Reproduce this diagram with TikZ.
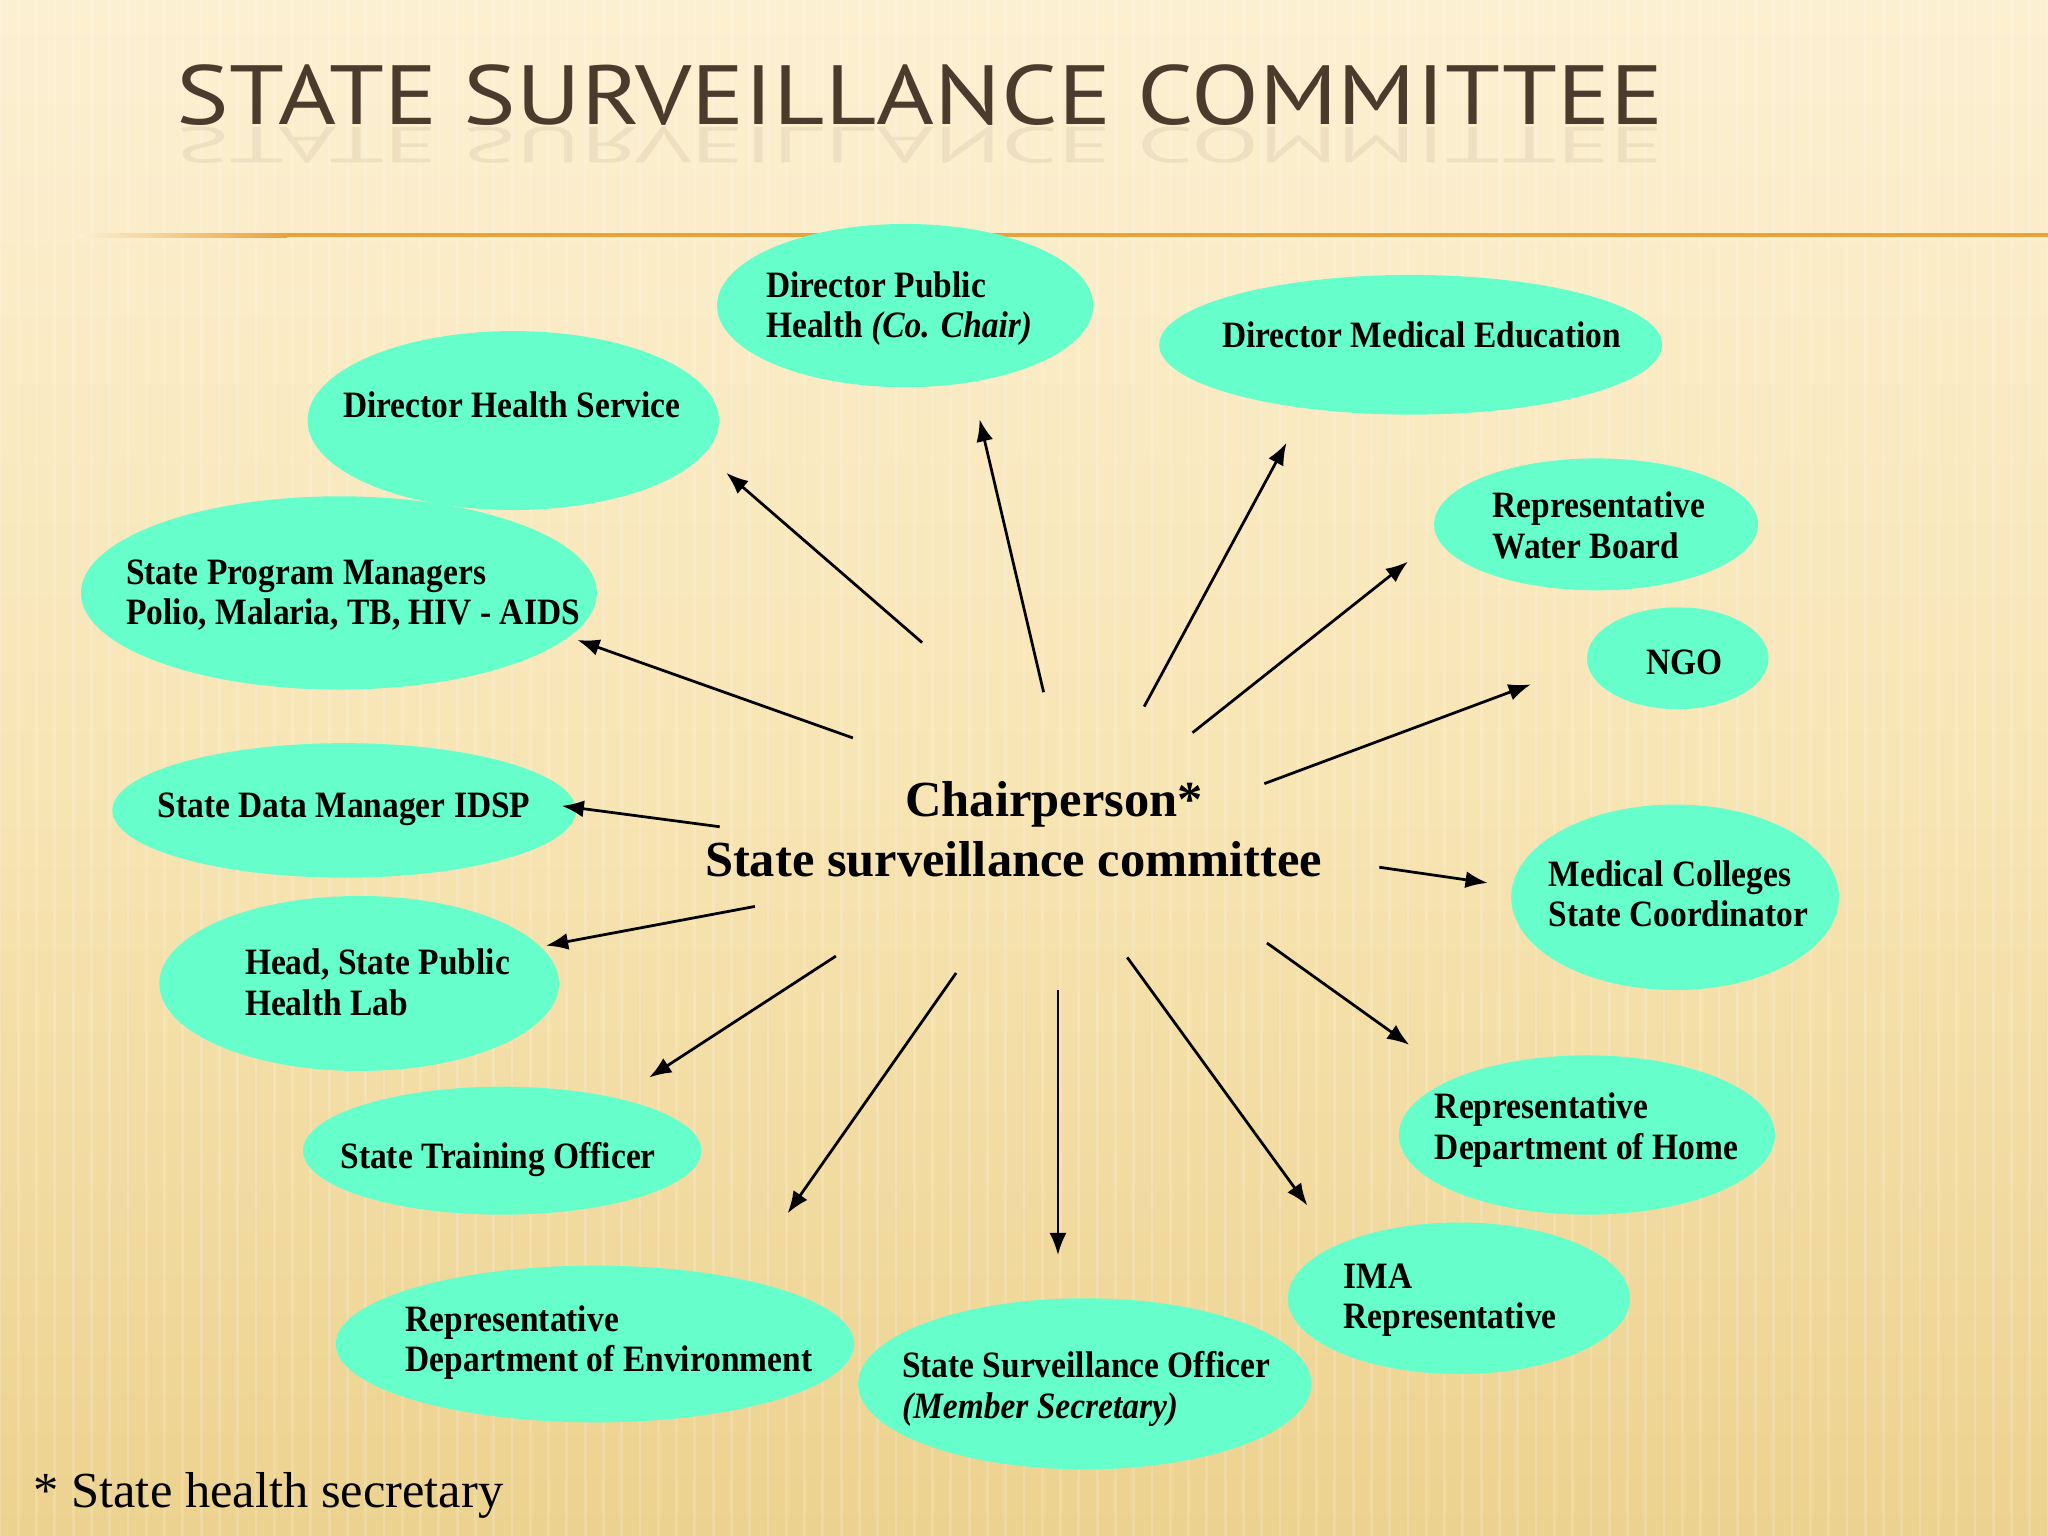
\documentclass[tikz,border=0pt]{standalone}
\usepackage{fontspec}
\setmainfont{Liberation Serif}
\newfontfamily\titlefont{PT Sans}
\usetikzlibrary{shapes.geometric,arrows.meta}

\definecolor{aqua}{HTML}{66FFCC}
\definecolor{titlebrown}{HTML}{4A3B2C}
\definecolor{rulecol}{HTML}{E9A23B}
\definecolor{bgtop}{HTML}{FCF0D2}
\definecolor{bgmid}{HTML}{F8E5B5}
\definecolor{bgbot}{HTML}{ECD28F}

\begin{document}
\begin{tikzpicture}[
  main node/.style={ellipse,fill=aqua,inner sep=0pt},
  name node/.style={anchor=north west,align=left,inner sep=0pt,xscale=0.9,
    font=\fontsize{8.1}{8.8}\selectfont\bfseries},
  arrow line/.style={-{Latex[length=1.7mm,width=1.3mm]},line width=0.6pt},
  title node/.style={anchor=base,inner sep=0pt,text=titlebrown,xscale=1.18,
    font=\titlefont\fontsize{18.3}{20}\selectfont}]

% background
\fill[top color=bgtop,bottom color=bgbot,middle color=bgmid] (0,0) rectangle (15.68,11.76);
\useasboundingbox (0,0) rectangle (15.68,11.76);
\foreach \x in {0,0.14,...,15.68}
  \draw[white,opacity=0.16,line width=0.6pt] (\x,0) -- (\x,11.76);

% title and rule
\node[title node] (title) at (7.045,10.81) {STATE SURVEILLANCE COMMITTEE};
\node[title node,yscale=-0.6,opacity=0.08] (titleshadow) at (7.045,10.78) {STATE SURVEILLANCE COMMITTEE};
\shade[left color=bgtop,right color=rulecol] (0.6,9.945) rectangle (2.2,9.975);
\fill[rulecol] (2.2,9.945) rectangle (15.68,9.975);

% ellipses
\node[main node,minimum width=2.88cm,minimum height=1.25cm] (dph) at (6.93,9.42) {};
\node[main node,minimum width=3.85cm,minimum height=1.07cm] (dme) at (10.80,9.12) {};
\node[main node,minimum width=3.15cm,minimum height=1.37cm] (dhs) at (3.93,8.54) {};
\node[main node,minimum width=3.95cm,minimum height=1.48cm] (spm) at (2.595,7.22) {};
\node[main node,minimum width=2.48cm,minimum height=1.01cm] (rwb) at (12.22,7.745) {};
\node[main node,minimum width=1.39cm,minimum height=0.78cm] (ngo) at (12.845,6.72) {};
\node[main node,minimum width=3.55cm,minimum height=1.03cm] (sdm) at (2.635,5.555) {};
\node[main node,minimum width=2.51cm,minimum height=1.42cm] (mcc) at (12.825,4.89) {};
\node[main node,minimum width=3.06cm,minimum height=1.34cm] (hpl) at (2.75,4.23) {};
\node[main node,minimum width=3.05cm,minimum height=0.98cm] (sto) at (3.845,2.95) {};
\node[main node,minimum width=2.88cm,minimum height=1.22cm] (rdh) at (12.15,3.07) {};
\node[main node,minimum width=2.62cm,minimum height=1.16cm] (ima) at (11.17,1.82) {};
\node[main node,minimum width=3.97cm,minimum height=1.20cm] (rde) at (4.555,1.47) {};
\node[main node,minimum width=3.47cm,minimum height=1.31cm] (sso) at (8.305,1.165) {};

% labels
\node[name node] (dphtext) at (5.86,9.69) {Director Public\\Health \textit{(Co. Chair)}};
\node[name node] (dmetext) at (9.35,9.30) {Director Medical Education};
\node[name node] (dhstext) at (2.62,8.77) {Director Health Service};
\node[name node] (spmtext) at (0.96,7.48) {State Program Managers\\Polio, Malaria, TB, HIV - AIDS};
\node[name node] (rwbtext) at (11.42,8.00) {Representative\\Water Board};
\node[name node] (ngotext) at (12.60,6.79) {NGO};
\node[name node] (sdmtext) at (1.20,5.70) {State Data Manager IDSP};
\node[name node] (mcctext) at (11.85,5.18) {Medical Colleges\\State Coordinator};
\node[name node] (hpltext) at (1.87,4.50) {Head, State Public\\Health Lab};
\node[name node] (stotext) at (2.60,3.02) {State Training Officer};
\node[name node] (rdhtext) at (10.98,3.40) {Representative\\Department of Home};
\node[name node] (imatext) at (10.28,2.09) {IMA\\Representative};
\node[name node] (rdetext) at (3.10,1.77) {Representative\\Department of Environment};
\node[name node] (ssotext) at (6.90,1.42) {State Surveillance Officer\\\textit{(Member Secretary)}};

% centre
\node[anchor=north,align=center,inner sep=0pt,font=\fontsize{11}{13}\selectfont\bfseries]
  (chair) at (7.76,5.785) {\hspace*{0.62cm}Chairperson*\\State surveillance committee};

% arrows
\foreach \a/\b/\c/\d [count=\i] in {7.06/6.84/5.56/8.14, 7.99/6.46/7.50/8.55,
    8.76/6.35/9.85/8.37, 9.13/6.15/10.78/7.46, 9.68/5.76/11.72/6.52,
    10.56/5.12/11.39/5.00, 9.70/4.54/10.79/3.76, 8.63/4.43/10.01/2.53,
    8.10/4.18/8.10/2.15, 7.32/4.31/6.03/2.47, 6.40/4.44/4.97/3.51,
    5.78/4.82/4.18/4.52, 5.51/5.43/4.30/5.59, 6.53/6.11/4.42/6.86}
{
  \coordinate (s\i) at (\a,\b);
  \coordinate (e\i) at (\c,\d);
  \draw[arrow line] (s\i) -- (e\i);
}

% footnote
\node[anchor=base west,inner sep=0pt,font=\fontsize{11}{13}\selectfont] (note) at (0.25,0.22) {* State health secretary};
\end{tikzpicture}
\end{document}
